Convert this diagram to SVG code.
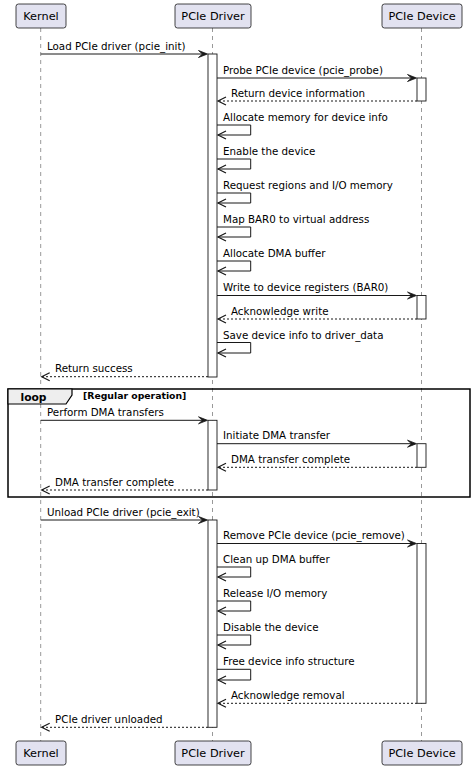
<svg xmlns="http://www.w3.org/2000/svg" width="474" height="769" viewBox="0 0 474 769">
<defs>
<style>
.part{fill:#E2E2F0;stroke:#181818;stroke-width:0.8}
.ptxt{font-family:"DejaVu Sans",sans-serif;font-size:11.3px;fill:#000;text-anchor:middle}
.life{stroke:#999;stroke-width:1;stroke-dasharray:4,4;fill:none}
.act{fill:#fff;stroke:#181818;stroke-width:0.9}
.msg{stroke:#181818;stroke-width:1;fill:none}
.ret{stroke:#181818;stroke-width:1;fill:none;stroke-dasharray:2,2}
.head{fill:#181818;stroke:#181818;stroke-width:0.8}
.ohead{fill:none;stroke:#181818;stroke-width:1.2}
.t{font-family:"DejaVu Sans",sans-serif;font-size:10.3px;fill:#000}
.frame{fill:none;stroke:#000;stroke-width:1.5}
.tab{fill:#EEEEEE;stroke:#000;stroke-width:1.2}
.lt{font-family:"DejaVu Sans",sans-serif;font-size:10.7px;font-weight:bold;fill:#000}
.gt{font-family:"DejaVu Sans",sans-serif;font-size:9.3px;font-weight:bold;fill:#000}
</style>
</defs>
<g id="lifelines">
<line class="life" x1="40.7" y1="28" x2="40.7" y2="741"/>
<line class="life" x1="212.5" y1="28" x2="212.5" y2="741"/>
<line class="life" x1="421.5" y1="28" x2="421.5" y2="741"/>
</g>
<g id="loop-frame">
<rect class="frame" x="8" y="389" width="462" height="108"/>
<path class="tab" d="M8,389 H72 V395 L66,404 H8 Z"/>
<text class="lt" x="20.5" y="400.5">loop</text>
<text class="gt" x="83" y="398.5">[Regular operation]</text>
</g>
<g id="activations">
<rect class="act" x="208" y="54" width="9" height="323"/>
<rect class="act" x="417" y="78" width="9" height="23"/>
<rect class="act" x="417" y="295.5" width="9" height="23.5"/>
<rect class="act" x="208" y="420.3" width="9" height="69.7"/>
<rect class="act" x="417" y="443.7" width="9" height="23.6"/>
<rect class="act" x="208" y="520" width="9" height="207.3"/>
<rect class="act" x="417" y="543.5" width="9" height="159.8"/>
</g>
<g id="kernel">
<rect class="part" x="16" y="4" width="50" height="24" rx="2.5"/>
<text class="ptxt" x="41" y="20.2">Kernel</text>
<rect class="part" x="16" y="741" width="50" height="24" rx="2.5"/>
<text class="ptxt" x="41" y="757.2">Kernel</text>
</g>
<g id="pcie-driver">
<rect class="part" x="175" y="4" width="76" height="24" rx="2.5"/>
<text class="ptxt" x="213" y="20.2">PCIe Driver</text>
<rect class="part" x="175" y="741" width="76" height="24" rx="2.5"/>
<text class="ptxt" x="213" y="757.2">PCIe Driver</text>
</g>
<g id="pcie-device">
<rect class="part" x="382" y="4" width="80" height="24" rx="2.5"/>
<text class="ptxt" x="422" y="20.2">PCIe Device</text>
<rect class="part" x="382" y="741" width="80" height="24" rx="2.5"/>
<text class="ptxt" x="422" y="757.2">PCIe Device</text>
</g>
<g id="connectors">
<!-- Load -->
<line class="msg" x1="40.7" y1="54" x2="206" y2="54"/>
<polygon class="head" points="207.5,54 198.5,50.5 202.5,54 198.5,57.5"/>
<text class="t" x="47" y="49.5">Load PCIe driver (pcie_init)</text>
<!-- Probe -->
<line class="msg" x1="217" y1="78" x2="415" y2="78"/>
<polygon class="head" points="416.5,78 407.5,74.5 411.5,78 407.5,81.5"/>
<text class="t" x="223" y="73.5">Probe PCIe device (pcie_probe)</text>
<!-- Return device info -->
<line class="ret" x1="417" y1="101" x2="218" y2="101"/>
<polyline class="ohead" points="226,97 218,101 226,105"/>
<text class="t" x="231" y="96.5">Return device information</text>
<!-- self loops -->
<polyline class="msg" points="217,125 250.7,125 250.7,135 218,135"/>
<polyline class="ohead" points="226,131 218,135 226,139"/>
<text class="t" x="223" y="120.5">Allocate memory for device info</text>
<polyline class="msg" points="217,159 250.7,159 250.7,169 218,169"/>
<polyline class="ohead" points="226,165 218,169 226,173"/>
<text class="t" x="223" y="154.5">Enable the device</text>
<polyline class="msg" points="217,193 250.7,193 250.7,203 218,203"/>
<polyline class="ohead" points="226,199 218,203 226,207"/>
<text class="t" x="223" y="188.5">Request regions and I/O memory</text>
<polyline class="msg" points="217,227 250.7,227 250.7,237 218,237"/>
<polyline class="ohead" points="226,233 218,237 226,241"/>
<text class="t" x="223" y="222.5">Map BAR0 to virtual address</text>
<polyline class="msg" points="217,261 250.7,261 250.7,271 218,271"/>
<polyline class="ohead" points="226,267 218,271 226,275"/>
<text class="t" x="223" y="256.5">Allocate DMA buffer</text>
<!-- Write -->
<line class="msg" x1="217" y1="295.5" x2="415" y2="295.5"/>
<polygon class="head" points="416.5,295.5 407.5,292 411.5,295.5 407.5,299"/>
<text class="t" x="223" y="291">Write to device registers (BAR0)</text>
<line class="ret" x1="417" y1="319" x2="218" y2="319"/>
<polyline class="ohead" points="226,315 218,319 226,323"/>
<text class="t" x="231" y="314.5">Acknowledge write</text>
<polyline class="msg" points="217,342.5 250.7,342.5 250.7,353 218,353"/>
<polyline class="ohead" points="226,349 218,353 226,357"/>
<text class="t" x="223" y="338.5">Save device info to driver_data</text>
<!-- Return success -->
<line class="ret" x1="208" y1="376.7" x2="42" y2="376.7"/>
<polyline class="ohead" points="49.7,372.7 41.7,376.7 49.7,380.7"/>
<text class="t" x="55" y="372">Return success</text>
<!-- Loop -->
<line class="msg" x1="40.7" y1="420.3" x2="206" y2="420.3"/>
<polygon class="head" points="207.5,420.3 198.5,416.8 202.5,420.3 198.5,423.8"/>
<text class="t" x="47" y="415.8">Perform DMA transfers</text>
<line class="msg" x1="217" y1="443.7" x2="415" y2="443.7"/>
<polygon class="head" points="416.5,443.7 407.5,440.2 411.5,443.7 407.5,447.2"/>
<text class="t" x="223" y="439.2">Initiate DMA transfer</text>
<line class="ret" x1="417" y1="467.3" x2="218" y2="467.3"/>
<polyline class="ohead" points="226,463.3 218,467.3 226,471.3"/>
<text class="t" x="231" y="462.8">DMA transfer complete</text>
<line class="ret" x1="208" y1="490" x2="42" y2="490"/>
<polyline class="ohead" points="49.7,486 41.7,490 49.7,494"/>
<text class="t" x="55" y="485.5">DMA transfer complete</text>
<!-- Unload -->
<line class="msg" x1="40.7" y1="520" x2="206" y2="520"/>
<polygon class="head" points="207.5,520 198.5,516.5 202.5,520 198.5,523.5"/>
<text class="t" x="47" y="515.5">Unload PCIe driver (pcie_exit)</text>
<line class="msg" x1="217" y1="543.5" x2="415" y2="543.5"/>
<polygon class="head" points="416.5,543.5 407.5,540 411.5,543.5 407.5,547"/>
<text class="t" x="223" y="539">Remove PCIe device (pcie_remove)</text>
<polyline class="msg" points="217,567 250.7,567 250.7,577 218,577"/>
<polyline class="ohead" points="226,573 218,577 226,581"/>
<text class="t" x="223" y="562.5">Clean up DMA buffer</text>
<polyline class="msg" points="217,601 250.7,601 250.7,611 218,611"/>
<polyline class="ohead" points="226,607 218,611 226,615"/>
<text class="t" x="223" y="596.5">Release I/O memory</text>
<polyline class="msg" points="217,635 250.7,635 250.7,645 218,645"/>
<polyline class="ohead" points="226,641 218,645 226,649"/>
<text class="t" x="223" y="630.5">Disable the device</text>
<polyline class="msg" points="217,669.3 250.7,669.3 250.7,680 218,680"/>
<polyline class="ohead" points="226,676 218,680 226,684"/>
<text class="t" x="223" y="664.8">Free device info structure</text>
<line class="ret" x1="417" y1="703.3" x2="218" y2="703.3"/>
<polyline class="ohead" points="226,699.3 218,703.3 226,707.3"/>
<text class="t" x="231" y="698.8">Acknowledge removal</text>
<line class="ret" x1="208" y1="727.3" x2="42" y2="727.3"/>
<polyline class="ohead" points="49.7,723.3 41.7,727.3 49.7,731.3"/>
<text class="t" x="55" y="722.8">PCIe driver unloaded</text>
</g>
</svg>
